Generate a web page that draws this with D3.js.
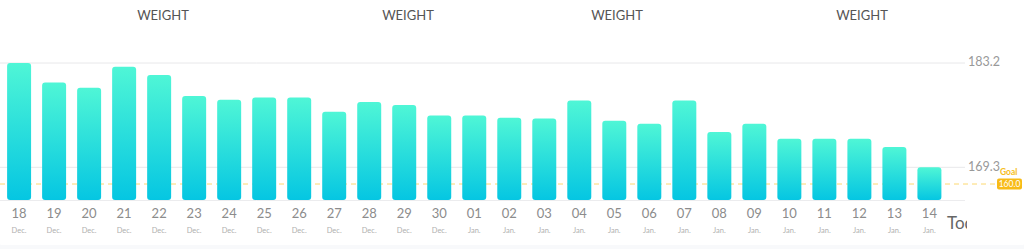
<!DOCTYPE html>
<html>
<head>
<meta charset="utf-8">
<script src="https://cdn.jsdelivr.net/npm/d3@7"></script>
<style>
  body { margin: 0; background: #f8f9fb; font-family: Lato, "Noto Sans", sans-serif; }
  svg { display: block; }
</style>
</head>
<body>
<div id="chart"></div>
<script>
// data
const days = ["18","19","20","21","22","23","24","25","26","27","28","29","30",
              "01","02","03","04","05","06","07","08","09","10","11","12","13","14"];
const months = ["Dec.","Dec.","Dec.","Dec.","Dec.","Dec.","Dec.","Dec.","Dec.","Dec.","Dec.","Dec.","Dec.",
                "Jan.","Jan.","Jan.","Jan.","Jan.","Jan.","Jan.","Jan.","Jan.","Jan.","Jan.","Jan.","Jan.","Jan."];
const weights = [183.2,180.6,179.9,182.7,181.6,178.8,178.3,178.6,178.6,176.7,178.0,177.6,176.2,
                 176.2,175.9,175.8,178.2,175.5,175.1,178.2,174.0,175.1,173.1,173.1,173.1,172.0,169.3];
const yTicks = [169.3, 183.2];
const goal = 160.0;
const titles = ["WEIGHT","WEIGHT","WEIGHT","WEIGHT"];
const titleX = [163, 408, 617, 862];

const width = 1024, height = 249;
const plotRight = 965, plotBottom = 200;

const svg = d3.select("#chart").append("svg")
    .attr("width", width).attr("height", height);

// card background
svg.append("rect")
    .attr("x", -10).attr("y", -10)
    .attr("width", width + 20).attr("height", 255)
    .attr("rx", 14)
    .attr("fill", "#fff");

const defs = svg.append("defs");
const grad = defs.append("linearGradient")
    .attr("id", "barGrad").attr("x1", 0).attr("y1", 0).attr("x2", 0).attr("y2", 1);
grad.append("stop").attr("offset", "0%").attr("stop-color", "#4ff6d6");
grad.append("stop").attr("offset", "100%").attr("stop-color", "#05c6e2");

defs.append("clipPath").attr("id", "plotClip")
  .append("rect").attr("x", 0).attr("y", 0).attr("width", 967).attr("height", height);

// titles
svg.selectAll(".title")
    .data(titles)
    .enter().append("text")
    .attr("x", (d, i) => titleX[i])
    .attr("y", 20)
    .attr("text-anchor", "middle")
    .attr("fill", "#555")
    .style("font-size", "13px")
    .text(d => d);

// scales
const x = d3.scaleBand()
    .domain(days.map((d, i) => i))
    .range([1.5, 947])
    .paddingInner(0.315)
    .paddingOuter(0.16);

const y = d3.scaleLinear()
    .domain([169.3, 183.2])
    .range([167.3, 63]);

// grid lines
svg.selectAll(".grid")
    .data(yTicks)
    .enter().append("line")
    .attr("x1", 0).attr("x2", plotRight)
    .attr("y1", d => y(d)).attr("y2", d => y(d))
    .attr("stroke", "#e8e8ea").attr("stroke-width", 1);

svg.selectAll(".ylab")
    .data(yTicks)
    .enter().append("text")
    .attr("x", 968)
    .attr("y", d => y(d) - 1)
    .attr("dy", "0.35em")
    .attr("fill", "#999")
    .style("font-size", "12.5px")
    .text(d => d.toFixed(1));

// baseline
svg.append("line")
    .attr("x1", 0).attr("x2", plotRight)
    .attr("y1", plotBottom + 0.5).attr("y2", plotBottom + 0.5)
    .attr("stroke", "#ececee");

// goal line (goal is below the visible range, so it is clamped above the baseline)
const goalY = Math.min(y(goal), plotBottom - 16);
svg.append("line")
    .attr("x1", 0).attr("x2", 997)
    .attr("y1", goalY).attr("y2", goalY)
    .attr("stroke", "#fcd870")
    .attr("stroke-width", 1)
    .attr("stroke-dasharray", "5,4");

// bars
svg.selectAll(".bar")
    .data(weights)
    .enter().append("rect")
    .attr("x", (d, i) => x(i))
    .attr("y", d => y(d))
    .attr("width", x.bandwidth())
    .attr("height", d => plotBottom - y(d))
    .attr("rx", 3)
    .attr("fill", "url(#barGrad)");

// goal labels
svg.append("text")
    .attr("x", 1000).attr("y", 172)
    .attr("dy", "0.35em")
    .attr("fill", "#f6bd22")
    .style("font-size", "8.5px")
    .style("font-weight", "bold")
    .text("Goal");

svg.append("rect")
    .attr("x", 997).attr("y", goalY - 5.5)
    .attr("width", 25).attr("height", 11)
    .attr("rx", 2)
    .attr("fill", "#f8bb17");

svg.append("text")
    .attr("x", 1009.5).attr("y", goalY)
    .attr("dy", "0.35em")
    .attr("text-anchor", "middle")
    .attr("fill", "#fff")
    .style("font-size", "8.5px")
    .text(goal.toFixed(1));

// x labels
svg.selectAll(".day")
    .data(days)
    .enter().append("text")
    .attr("x", (d, i) => x(i) + x.bandwidth() / 2)
    .attr("y", 213)
    .attr("dy", "0.35em")
    .attr("text-anchor", "middle")
    .attr("fill", "#8c8c8c")
    .style("font-size", "13px")
    .text(d => d);

svg.selectAll(".mon")
    .data(months)
    .enter().append("text")
    .attr("x", (d, i) => x(i) + x.bandwidth() / 2)
    .attr("y", 230)
    .attr("dy", "0.35em")
    .attr("text-anchor", "middle")
    .attr("fill", "#b0b0b0")
    .style("font-size", "7.5px")
    .text(d => d);

svg.append("g").attr("clip-path", "url(#plotClip)")
  .append("text")
    .attr("x", 947).attr("y", 223)
    .attr("dy", "0.35em")
    .attr("fill", "#666")
    .style("font-size", "17px")
    .text("Today");
</script>
</body>
</html>
